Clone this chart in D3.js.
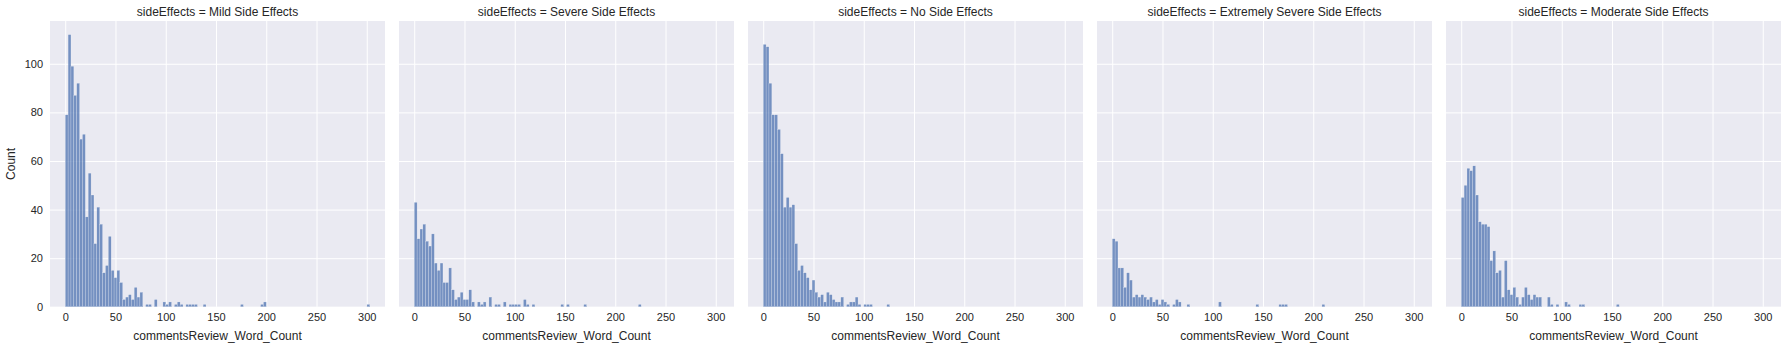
<!DOCTYPE html>
<html>
<head>
<meta charset="utf-8">
<script src="https://cdn.jsdelivr.net/npm/d3@7/dist/d3.min.js"></script>
<style>
  html, body { margin: 0; padding: 0; background: #fff; }
  svg { display: block; }
  text { font-family: "Liberation Sans", Arial, sans-serif; fill: #262626; }
</style>
</head>
<body>
<svg id="chart" width="1788" height="348"></svg>
<script>
// Facet categories, in column order
const facets = [
  "Mild Side Effects",
  "Severe Side Effects",
  "No Side Effects",
  "Extremely Severe Side Effects",
  "Moderate Side Effects"
];

// Shared histogram bins over commentsReview_Word_Count
const binMin = 0;
const binMax = 303;
const binCount = 106;

// Counts for the leading bins (bin 0 onward), one array per facet
const headMild     = [79,112,99,87,92,69,71,37,55,46,26,41,34,14,17,29,15,12,15,10,3,4,5,3,8,4,6,0,1,1,0,3,0,0,2,1,2,0,1,2,1,0,1,1,1,1];
const headSevere   = [43,28,32,34,27,25,30,18,15,18,10,10,16,7,3,4,6,3,3,7,2,0,2,1,2,0,4,0,1,1,0,2,0,1,1,1,1,0,3,1,0,1];
const headNone     = [108,107,92,79,79,73,63,41,45,41,42,26,15,17,14,12,7,11,6,4,5,2,6,5,3,2,2,4,0,1,2,2,4,1,0,1,1,1];
const headExtreme  = [28,27,16,16,8,14,11,4,5,4,5,4,3,4,2,3,1,3,2,1,0,1,3,2,0,0,1];
const headModerate = [45,50,57,56,58,46,35,34,34,33,19,23,14,15,4,19,7,5,8,4,1,4,8,5,3,5,4,4,0,0,4,1,0,1,0,0,2,1,0,0,0,1,1];

// Sparse long-tail bins: [bin index, count]
const tailMild     = [[48,1],[61,1],[68,1],[69,2],[105,1]];
const tailSevere   = [[51,1],[53,1],[59,1],[78,1]];
const tailNone     = [[43,1]];
const tailExtreme  = [[37,2],[50,1],[58,1],[59,1],[60,1],[73,1]];
const tailModerate = [[54,1]];

// Axis ticks
const xTicks = [0, 50, 100, 150, 200, 250, 300];
const yTicks = [0, 20, 40, 60, 80, 100];

const heads = [headMild, headSevere, headNone, headExtreme, headModerate];
const tails = [tailMild, tailSevere, tailNone, tailExtreme, tailModerate];

function countsFor(i) {
  const c = new Array(binCount).fill(0);
  heads[i].forEach((v, k) => { c[k] = v; });
  tails[i].forEach(([k, v]) => { c[k] = v; });
  return c;
}

const binWidth = (binMax - binMin) / binCount;
const edges = d3.range(binCount + 1).map(k => binMin + k * binWidth);

const allCounts = facets.map((_, i) => countsFor(i));
const yMax = d3.max(allCounts, c => d3.max(c)) * 1.05;
const xPad = (binMax - binMin) * 0.05;

// Layout of the facet grid
const panelLeft = 50, panelPitch = 349, panelW = 335;
const panelTop = 21, panelBottom = 306.8;

const svg = d3.select("#chart");

const y = d3.scaleLinear().domain([0, yMax]).range([panelBottom, panelTop]);

facets.forEach((name, i) => {
  const left = panelLeft + i * panelPitch;
  const x = d3.scaleLinear()
    .domain([binMin - xPad, binMax + xPad])
    .range([left, left + panelW]);

  const g = svg.append("g");

  g.append("rect")
    .attr("x", left).attr("y", panelTop)
    .attr("width", panelW).attr("height", panelBottom - panelTop)
    .attr("fill", "#EAEAF2");

  // Gridlines
  const gx = g.append("g")
    .attr("transform", `translate(0,${panelBottom})`)
    .call(d3.axisBottom(x).tickValues(xTicks).tickSize(-(panelBottom - panelTop)).tickFormat(""));
  const gy = g.append("g")
    .attr("transform", `translate(${left},0)`)
    .call(d3.axisLeft(y).tickValues(yTicks).tickSize(-panelW).tickFormat(""));
  [gx, gy].forEach(a => {
    a.select(".domain").remove();
    a.selectAll(".tick line").attr("stroke", "#fff").attr("stroke-width", 1);
  });

  // Histogram bars
  const bars = allCounts[i].map((c, k) => ({ x0: edges[k], x1: edges[k + 1], c }))
    .filter(d => d.c > 0);
  g.append("g").selectAll("rect")
    .data(bars)
    .join("rect")
    .attr("x", d => x(d.x0))
    .attr("width", d => x(d.x1) - x(d.x0))
    .attr("y", d => y(d.c))
    .attr("height", d => y(0) - y(d.c))
    .attr("fill", "#4C72B0")
    .attr("fill-opacity", 0.75)
    .attr("stroke", "#ffffff")
    .attr("stroke-opacity", 0.6)
    .attr("stroke-width", 0.35);

  // X tick labels
  const xa = g.append("g")
    .attr("transform", `translate(0,${panelBottom})`)
    .call(d3.axisBottom(x).tickValues(xTicks).tickSize(0).tickPadding(6).tickFormat(d3.format("d")));
  xa.select(".domain").remove();
  xa.selectAll("text").style("font-size", "11px").attr("fill", "#262626");

  g.append("text")
    .attr("x", left + panelW / 2).attr("y", 340)
    .attr("text-anchor", "middle")
    .style("font-size", "12px")
    .text("commentsReview_Word_Count");

  g.append("text")
    .attr("x", left + panelW / 2).attr("y", 15.5)
    .attr("text-anchor", "middle")
    .style("font-size", "12px")
    .text(`sideEffects = ${name}`);

  if (i === 0) {
    const ya = g.append("g")
      .attr("transform", `translate(${left},0)`)
      .call(d3.axisLeft(y).tickValues(yTicks).tickSize(0).tickPadding(7).tickFormat(d3.format("d")));
    ya.select(".domain").remove();
    ya.selectAll("text").style("font-size", "11px").attr("fill", "#262626");

    g.append("text")
      .attr("transform", `translate(15,${(panelTop + panelBottom) / 2}) rotate(-90)`)
      .attr("text-anchor", "middle")
      .style("font-size", "12px")
      .text("Count");
  }
});
</script>
</body>
</html>
